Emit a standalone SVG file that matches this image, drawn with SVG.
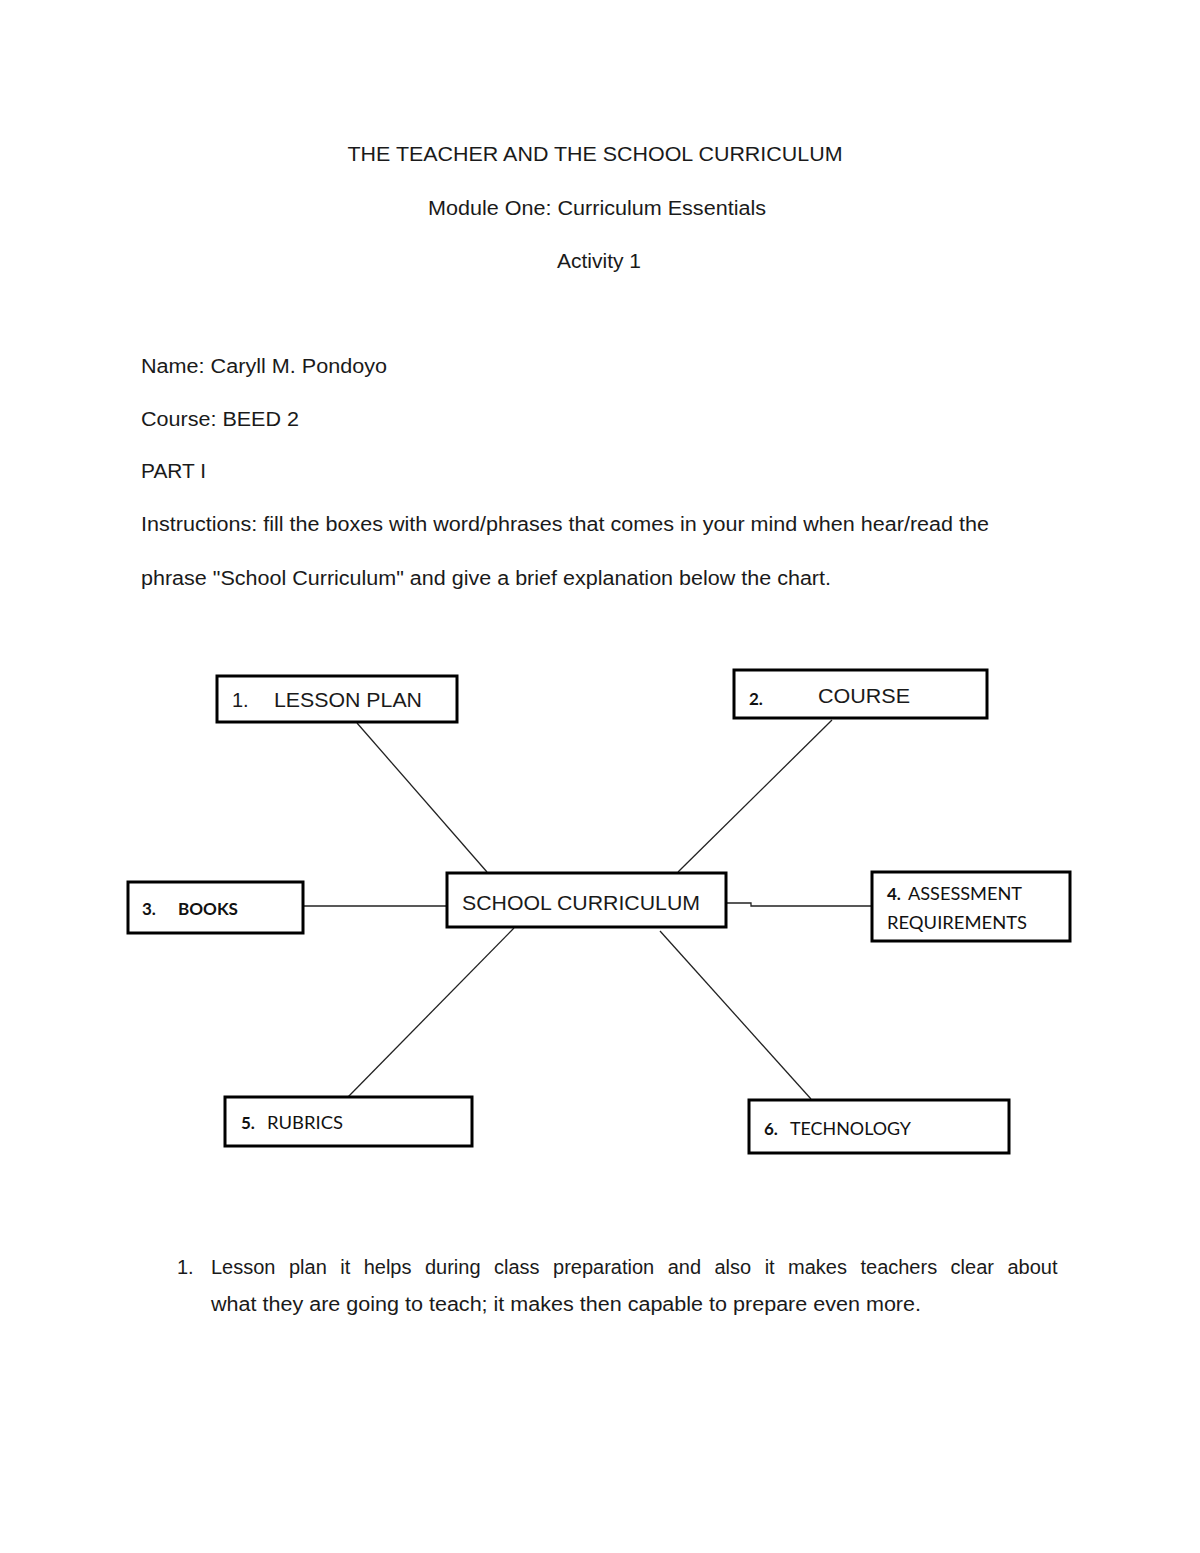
<svg xmlns="http://www.w3.org/2000/svg" width="1200" height="1553" viewBox="0 0 1200 1553">
<style>
.t{font-family:"Liberation Sans",Arial,sans-serif;font-size:20px;fill:#1a1a1a}
.c{font-family:Lato,"Open Sans",sans-serif;font-size:17px;fill:#111}
.b{font-weight:bold}
.box{fill:#fff;stroke:#000;stroke-width:3}
.ln{stroke:#222;stroke-width:1.3;fill:none}
</style>
<rect width="1200" height="1553" fill="#fff"/>
<g id="header">
<text class="t" x="595" y="161" text-anchor="middle" textLength="495" lengthAdjust="spacingAndGlyphs">THE TEACHER AND THE SCHOOL CURRICULUM</text>
<text class="t" x="597" y="215" text-anchor="middle" textLength="338" lengthAdjust="spacingAndGlyphs">Module One: Curriculum Essentials</text>
<text class="t" x="599" y="268" text-anchor="middle" textLength="84" lengthAdjust="spacingAndGlyphs">Activity 1</text>
<text class="t" x="141" y="373" textLength="246" lengthAdjust="spacingAndGlyphs">Name: Caryll M. Pondoyo</text>
<text class="t" x="141" y="426" textLength="158" lengthAdjust="spacingAndGlyphs">Course: BEED 2</text>
<text class="t" x="141" y="478" textLength="65" lengthAdjust="spacingAndGlyphs">PART I</text>
<text class="t" x="141" y="531" textLength="848" lengthAdjust="spacingAndGlyphs">Instructions: fill the boxes with word/phrases that comes in your mind when hear/read the</text>
<text class="t" x="141" y="585" textLength="690" lengthAdjust="spacingAndGlyphs">phrase "School Curriculum" and give a brief explanation below the chart.</text>
</g>
<g id="connectors">
<line class="ln" x1="357" y1="723" x2="487" y2="872"/>
<line class="ln" x1="832" y1="720" x2="678" y2="872"/>
<line class="ln" x1="302" y1="906" x2="447" y2="906"/>
<polyline class="ln" points="727,903 751,903 751,906 872,906"/>
<line class="ln" x1="514" y1="928" x2="348" y2="1097"/>
<line class="ln" x1="660" y1="931" x2="811" y2="1099"/>
</g>
<g id="node-lesson-plan">
<rect class="box" x="217" y="676" width="240" height="46"/>
<text class="t" x="232" y="707">1.</text>
<text class="t" x="274" y="707" textLength="148" lengthAdjust="spacingAndGlyphs">LESSON PLAN</text>
</g>
<g id="node-course">
<rect class="box" x="734" y="670" width="253" height="48"/>
<text class="c b" x="749" y="705">2.</text>
<text class="t" x="818" y="703" textLength="92" lengthAdjust="spacingAndGlyphs">COURSE</text>
</g>
<g id="node-books">
<rect class="box" x="128" y="882" width="175" height="51"/>
<text class="c b" x="142" y="915">3.</text>
<text class="c b" x="178" y="915" textLength="60" lengthAdjust="spacingAndGlyphs">BOOKS</text>
</g>
<g id="node-school-curriculum">
<rect class="box" x="447" y="873" width="279" height="54"/>
<text class="t" x="462" y="910" textLength="238" lengthAdjust="spacingAndGlyphs">SCHOOL CURRICULUM</text>
</g>
<g id="node-assessment">
<rect class="box" x="872" y="872" width="198" height="69"/>
<text class="c" x="887" y="900"><tspan class="b">4.</tspan><tspan x="908" textLength="114" lengthAdjust="spacingAndGlyphs">ASSESSMENT</tspan></text>
<text class="c" x="887" y="929" textLength="140" lengthAdjust="spacingAndGlyphs">REQUIREMENTS</text>
</g>
<g id="node-rubrics">
<rect class="box" x="225" y="1097" width="247" height="49"/>
<text class="c" x="241" y="1129"><tspan class="b">5.</tspan><tspan x="267" textLength="76" lengthAdjust="spacingAndGlyphs">RUBRICS</tspan></text>
</g>
<g id="node-technology">
<rect class="box" x="749" y="1100" width="260" height="53"/>
<text class="c" x="764" y="1135"><tspan class="b">6.</tspan><tspan x="790" textLength="121" lengthAdjust="spacingAndGlyphs">TECHNOLOGY</tspan></text>
</g>
<g id="explanation">
<text class="t" x="177" y="1274">1.</text>
<text class="t" x="211" y="1274" word-spacing="7.9">Lesson plan it helps during class preparation and also it makes teachers clear about</text>
<text class="t" x="211" y="1311" textLength="710" lengthAdjust="spacingAndGlyphs">what they are going to teach; it makes then capable to prepare even more.</text>
</g>
</svg>
